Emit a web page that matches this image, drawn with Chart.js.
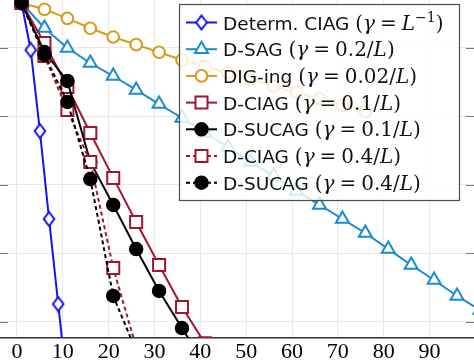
<!DOCTYPE html>
<html>
<head>
<meta charset="utf-8">
<script src="https://cdn.jsdelivr.net/npm/chart.js@4/dist/chart.umd.min.js"></script>
<style>
html, body { margin: 0; padding: 0; background: #fff; }
</style>
</head>
<body>
<canvas id="grafik" width="474" height="361"></canvas>
<script>
// iterations (x) where the marks sit, per method
const xDeterm   = [1, 3, 5, 7, 9, 11];
const xSag      = [1, 6, 11, 16, 21, 26, 31, 36, 41, 46, 51, 56, 61, 66, 71, 76, 81, 86, 91, 96, 101];
const xDig      = [1, 6, 11, 16, 21, 26, 31, 36, 41, 46, 51, 56, 61, 66, 71, 76];
const xCiag01   = [1, 6, 11, 16, 21, 26, 31, 36, 41];
const xSucag01  = [1, 6, 11, 16, 21, 26, 31, 36, 41];
const xCiag04   = [1, 6, 11, 16, 21, 26];
const xSucag04  = [1, 6, 11, 16, 21, 26];

// optimality gap
const yDeterm   = [4.54, 0.935, 0.0614, 0.00319, 1.83e-4, 1.05e-5];
const ySag      = [4.54, 1.96, 1.0, 0.604, 0.390, 0.244, 0.152, 0.0951, 0.0574, 0.0359, 0.0217,
                   0.0135, 0.00817, 0.00511, 0.00319, 0.00199, 0.00116, 6.8e-4, 4.1e-4, 2.4e-4, 1.5e-4];
const yDig      = [4.54, 3.67, 2.71, 1.94, 1.45, 1.12, 0.865, 0.668, 0.537, 0.432, 0.348, 0.279,
                   0.225, 0.180, 0.146, 0.118];
const yCiag01   = [4.54, 1.18, 0.270, 0.0574, 0.0127, 0.00288, 6.8e-4, 1.66e-4, 4.9e-5];
const ySucag01  = [4.54, 0.874, 0.330, 0.0217, 0.00511, 0.00116, 2.84e-4, 8.17e-5, 2.36e-5];
const yCiag04   = [4.54, 0.764, 0.124, 0.0217, 6.14e-4, 4.3e-5];
const ySucag04  = [4.54, 0.791, 0.163, 0.0122, 2.4e-4, 3.77e-5];

const xTicks = [0, 10, 20, 30, 40, 50, 60, 70, 80, 90];
const yGrid  = [1e-4, 1e-3, 1e-2, 1e-1, 1];

const names  = ['Determ. CIAG', 'D-SAG', 'DIG-ing', 'D-CIAG', 'D-SUCAG', 'D-CIAG', 'D-SUCAG'];
const gammas = ['L^-1', '0.2/L', '0.02/L', '0.1/L', '0.1/L', '0.4/L', '0.4/L'];

const BLUE = '#1212f2', SKY = '#1a8bd3', GOLD = '#d99a1c', WINE = '#a2142f', BLACK = '#000000';

function pts(xs, ys) {
    return xs.map((x, i) => ({ x: x, y: ys[i] }));
}

// taller-than-wide diamond like the pgfplots mark
function diamond(color) {
    const c = document.createElement('canvas');
    c.width = 14; c.height = 17;
    const g = c.getContext('2d');
    g.beginPath();
    g.moveTo(7, 1.5); g.lineTo(12.3, 8.5); g.lineTo(7, 15.5); g.lineTo(1.7, 8.5);
    g.closePath();
    g.fillStyle = '#fff'; g.fill();
    g.lineWidth = 2; g.strokeStyle = color; g.stroke();
    return c;
}
const diamondImg = diamond(BLUE);

function serie(label, xs, ys, color, style, radius, fill, dash, order) {
    return {
        label: label,
        data: pts(xs, ys),
        borderColor: color,
        backgroundColor: color,
        borderWidth: 2,
        borderDash: dash,
        pointStyle: style,
        pointRadius: radius,
        pointBorderWidth: fill ? 1.5 : 2,
        pointBorderColor: color,
        pointBackgroundColor: fill ? color : '#ffffff',
        order: order,
        clip: 0,
        fill: false,
        tension: 0
    };
}

const datasets = [
    serie(names[0], xDeterm, yDeterm, BLUE, diamondImg, 7, false, [], 7),
    serie(names[1], xSag, ySag, SKY, 'triangle', 7.5, false, [], 6),
    serie(names[2], xDig, yDig, GOLD, 'circle', 5.8, false, [], 5),
    serie(names[3], xCiag01, yCiag01, WINE, 'rect', 8.5, false, [], 4),
    serie(names[4], xSucag01, ySucag01, BLACK, 'circle', 6.5, true, [], 3),
    serie(names[5], xCiag04, yCiag04, WINE, 'rect', 8.5, false, [4, 3], 2),
    serie(names[6], xSucag04, ySucag04, BLACK, 'circle', 6.5, true, [4, 3], 1)
];

function drawMark(ctx, ds, x, y) {
    const st = ds.pointStyle, r = ds.pointRadius;
    if (typeof st !== 'string') {
        ctx.drawImage(st, x - st.width / 2, y - st.height / 2);
        return;
    }
    ctx.setLineDash([]);
    ctx.beginPath();
    if (st === 'circle') {
        ctx.arc(x, y, r, 0, Math.PI * 2);
    } else if (st === 'rect') {
        const s = Math.SQRT1_2 * r;
        ctx.rect(x - s, y - s, 2 * s, 2 * s);
    } else if (st === 'triangle') {
        ctx.moveTo(x, y - r);
        ctx.lineTo(x + 0.866 * r, y + 0.5 * r);
        ctx.lineTo(x - 0.866 * r, y + 0.5 * r);
        ctx.closePath();
    }
    ctx.fillStyle = ds.pointBackgroundColor;
    ctx.fill();
    ctx.lineWidth = ds.pointBorderWidth;
    ctx.strokeStyle = ds.pointBorderColor;
    ctx.stroke();
}

const SANS = '18.5px "DejaVu Sans"';
const SERIF = '20px "DejaVu Serif"';
const ISERIF = 'italic 20px "DejaVu Serif"';
const SUP = '14px "DejaVu Serif"';

function mathParts(g) {
    const parts = [{ t: '(', f: SERIF }, { t: 'γ', f: ISERIF }, { gap: 5 }, { t: '=', f: SERIF }, { gap: 5 }];
    if (g === 'L^-1') {
        parts.push({ t: 'L', f: ISERIF }, { t: '−1', f: SUP, dy: -8 });
    } else {
        const num = g.split('/')[0];
        parts.push({ t: num + '/', f: SERIF }, { t: 'L', f: ISERIF });
    }
    parts.push({ t: ')', f: SERIF });
    return parts;
}

function drawParts(ctx, parts, x, y) {
    parts.forEach(p => {
        if (p.gap) { x += p.gap; return; }
        ctx.font = p.f;
        ctx.fillText(p.t, x, y + (p.dy || 0));
        x += ctx.measureText(p.t).width;
    });
}

const legendBox = {
    id: 'legendBox',
    beforeDatasetsDraw(chart) {
        // small inner tick marks on left and right ends of the y grid
        const ctx = chart.ctx, a = chart.chartArea, ys = chart.scales.y;
        ctx.save();
        ctx.strokeStyle = '#777';
        ctx.lineWidth = 1;
        yGrid.forEach(v => {
            const p = Math.round(ys.getPixelForValue(v)) + 0.5;
            ctx.beginPath();
            ctx.moveTo(a.left, p); ctx.lineTo(a.left + 8, p);
            ctx.moveTo(a.right - 8, p); ctx.lineTo(a.right, p);
            ctx.stroke();
        });
        ctx.restore();
    },
    afterDraw(chart) {
        const ctx = chart.ctx;
        ctx.save();
        ctx.fillStyle = 'rgba(255,255,255,0.82)';
        ctx.fillRect(179.5, 4.5, 280, 196);
        ctx.strokeStyle = '#4d4d4d';
        ctx.lineWidth = 1.2;
        ctx.strokeRect(179.5, 4.5, 280, 196);

        chart.data.datasets.forEach((ds, i) => {
            const cy = 22.5 + i * 26.7;
            ctx.strokeStyle = ds.borderColor;
            ctx.lineWidth = 2;
            ctx.setLineDash(ds.borderDash);
            ctx.beginPath();
            ctx.moveTo(186, cy); ctx.lineTo(217, cy);
            ctx.stroke();
            drawMark(ctx, ds, 201.5, cy);

            ctx.fillStyle = '#111';
            ctx.textBaseline = 'alphabetic';
            ctx.font = SANS;
            ctx.fillText(ds.label, 223, cy + 7);
            const w = ctx.measureText(ds.label + ' ').width;
            drawParts(ctx, mathParts(gammas[i]), 223 + w, cy + 7);
        });
        ctx.restore();
    }
};

new Chart(document.getElementById('grafik'), {
    type: 'line',
    data: { datasets: datasets },
    options: {
        responsive: false,
        animation: false,
        devicePixelRatio: 1,
        layout: { padding: 0, autoPadding: false },
        plugins: { legend: { display: false }, tooltip: { enabled: false } },
        scales: {
            x: {
                type: 'linear',
                min: -3.7,
                max: 99.7,
                afterBuildTicks: s => { s.ticks = xTicks.map(v => ({ value: v })); },
                afterFit: s => { s.height = 23; },
                grid: { color: '#e8e8e8', drawTicks: false },
                border: { display: true, color: '#333', width: 1.5 },
                ticks: {
                    font: { family: 'Liberation Serif', size: 22 },
                    color: '#000',
                    padding: 1,
                    maxRotation: 0,
                    autoSkip: false
                }
            },
            y: {
                type: 'logarithmic',
                min: 5.84e-5,
                max: 5.02,
                afterBuildTicks: s => { s.ticks = yGrid.map(v => ({ value: v })); },
                afterFit: s => { s.width = 0; },
                grid: { color: '#e8e8e8', drawTicks: false },
                border: { display: false },
                ticks: { display: false }
            }
        }
    },
    plugins: [legendBox]
});
</script>
</body>
</html>
